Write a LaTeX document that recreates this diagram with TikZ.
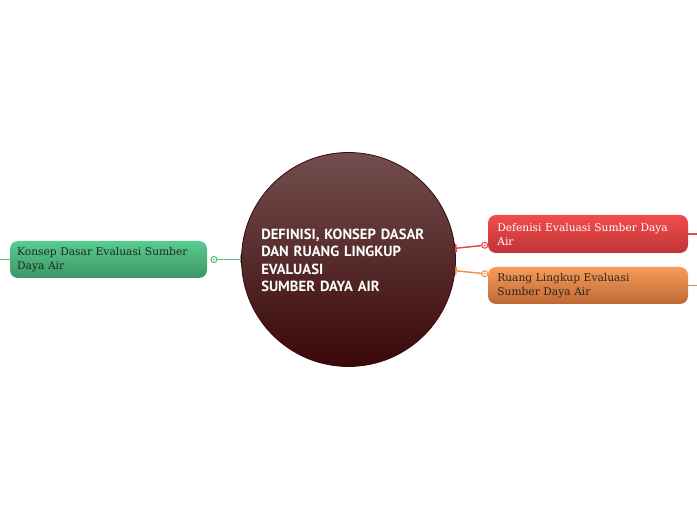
\documentclass[tikz,border=0pt]{standalone}
\usepackage{fontspec}
\setmainfont{DejaVu Serif}
\newfontfamily\titlefont{PT Sans}
\usetikzlibrary{arrows.meta}
\definecolor{rootTop}{HTML}{734E4E}
\definecolor{rootBot}{HTML}{3A0808}
\definecolor{redLine}{HTML}{E8474A}
\definecolor{orangeLine}{HTML}{F0914F}
\definecolor{greenLine}{HTML}{4CC283}
\tikzset{x=0.75pt, y=-0.75pt}
\tikzset{
  topic/.style={rounded corners=6pt, minimum width=150pt, minimum height=28.5pt,
    text width=136pt, align=left, inner sep=0pt, font=\fontsize{8}{10.5}\selectfont},
  link/.style={line width=1.1pt},
  ring/.style={fill=white, line width=0.8pt}
}
\begin{document}
\begin{tikzpicture}
\useasboundingbox (0,0) rectangle (697,520);
% centre
\node[circle, draw=rootBot, line width=0.6pt, minimum size=160.5pt, inner sep=0pt,
  top color=rootTop, bottom color=rootBot] (root) at (348.5,259.5) {};
\node[text=white, text width=140pt, align=left, anchor=north west,
  font=\titlefont\bfseries\fontsize{11}{13.1}\selectfont, inner sep=0pt]
  (title) at (261,228.5) {DEFINISI, KONSEP DASAR\\DAN RUANG LINGKUP\\EVALUASI\\SUMBER DAYA AIR};
% topics
\node[topic, text=white,
  top color={rgb,255:red,242;green,76;blue,76}, bottom color={rgb,255:red,192;green,52;blue,54}]
  (defn) at (588,234) {Defenisi Evaluasi Sumber Daya\\Air};
\node[topic, minimum height=27.75pt, text=black!85,
  top color={rgb,255:red,247;green,157;blue,88}, bottom color={rgb,255:red,190;green,104;blue,52}]
  (ruang) at (588,285.5) {Ruang Lingkup Evaluasi\\Sumber Daya Air};
\node[topic, minimum width=147.75pt, minimum height=27.75pt, text width=137pt, text=black!85,
  top color={rgb,255:red,88;green,204;blue,142}, bottom color={rgb,255:red,60;green,150;blue,100}]
  (konsep) at (108.5,259.5) {Konsep Dasar Evaluasi Sumber\\Daya Air};
% connectors
\coordinate (defnR) at ([shift={(-3,-8)}]defn.south west);
\coordinate (ruangR) at ([shift={(-3,7)}]ruang.north west);
\coordinate (konsepR) at ([xshift=5]konsep.east);
\draw[link, redLine, -{Bar[width=6pt]}] (defnR) -- (root.6.6);
\draw[link, orangeLine, -{Bar[width=6pt]}] (ruangR) -- (root.-6.6);
\draw[link, greenLine, -{Bar[width=6pt]}] (konsepR) -- (root.180);
\foreach \p/\c in {defnR/redLine, ruangR/orangeLine, konsepR/greenLine}{
  \draw[ring, draw=\c] (\p) circle (3);
  \fill[\c] (\p) circle (1);}
% outgoing stubs
\coordinate (defnOut) at (705,234);
\coordinate (ruangOut) at (705,285.5);
\coordinate (konsepOut) at (-8,259.5);
\draw[link, redLine] (defn.east) -- (defnOut);
\draw[link, orangeLine!70!gray, line width=0.6pt] (ruang.east) -- (ruangOut);
\draw[link, greenLine] (konsep.west) -- (konsepOut);
\end{tikzpicture}
\end{document}
